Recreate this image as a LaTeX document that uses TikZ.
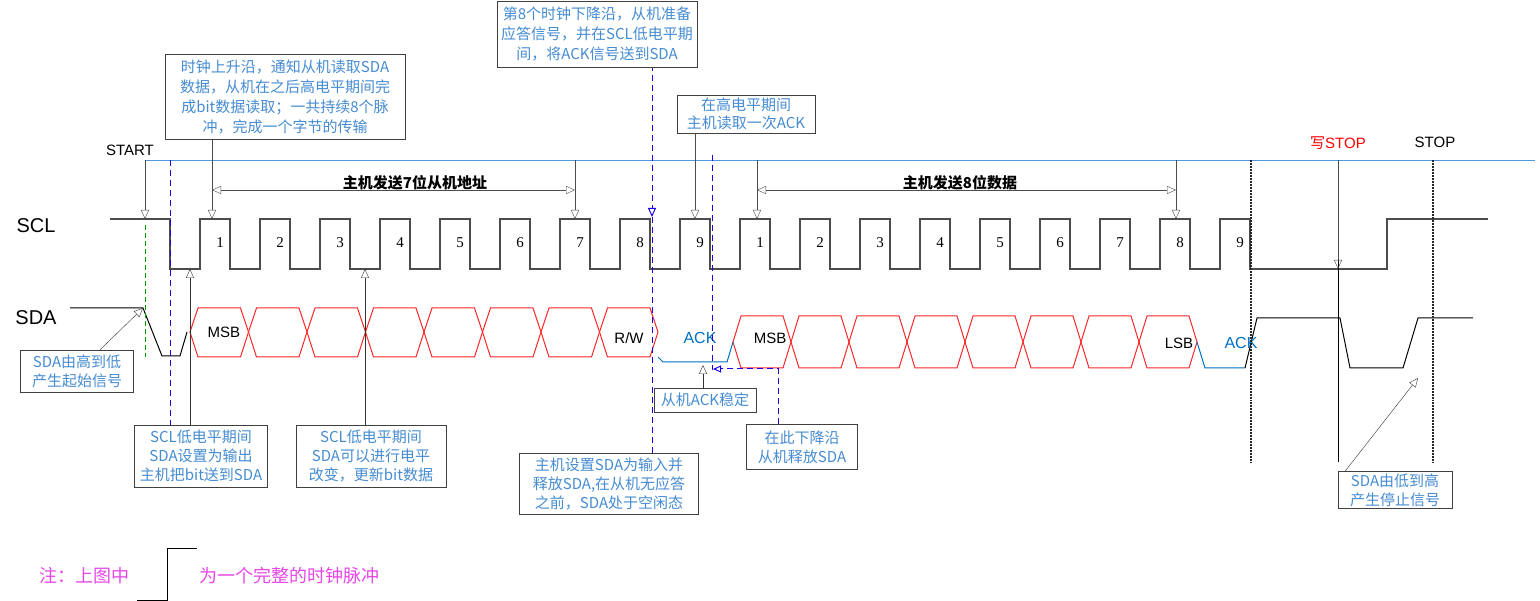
\documentclass[tikz,border=0pt]{standalone}
\usepackage{fontspec}
\setmainfont{Noto Sans CJK SC}
\newfontfamily\lat{Liberation Sans}
\newfontfamily\ser{Liberation Serif}
\usetikzlibrary{arrows.meta,positioning}
\definecolor{noteblue}{RGB}{70,140,210}
\definecolor{topblue}{RGB}{80,150,220}
\definecolor{ackblue}{RGB}{0,112,192}
\definecolor{hexred}{RGB}{250,40,40}
\definecolor{pink}{RGB}{230,70,230}

\begin{document}
\begin{tikzpicture}[x=1pt,y=-1pt,line join=miter,
  note/.style={draw=black!75,fill=white,text=noteblue,align=center,inner sep=2pt,
    font=\fontsize{15}{20}\selectfont},
  tip/.style={-{Triangle[open,length=9pt,width=8pt]}},
  clk/.style={black!70,line width=1.3pt},
  wire/.style={black,line width=1pt},
  hex/.style={hexred,line width=1pt},
  vdash/.style={blue!80!violet,dashed,dash pattern=on 6pt off 4pt,line width=1pt},
  stopline/.style={black!85,line width=1.3pt,dash pattern=on 1pt off 0.5pt}]
\useasboundingbox (0,0) rectangle (1540,601);

% top reference line
\draw[topblue] (145,160) -- (1535,160);

% signal labels
\node[font=\lat\fontsize{20}{20}\selectfont] (scl) at (36,226) {SCL};
\node[font=\lat\fontsize{20}{20}\selectfont] (sda) at (36,318) {SDA};

% SCL clock
\draw[clk] (110,219) -- (170,219) -- (170,269)
  foreach \k in {0,...,17}{ -- ({200+60*\k},269) -- ({200+60*\k},219)
    -- ({230+60*\k},219) -- ({230+60*\k},269) }
  -- (1387,269) -- (1387,219) -- (1488,219);
\foreach \k in {0,...,8}{
  \node[font=\ser\fontsize{15}{15}\selectfont] at ({220+60*\k},243) {\the\numexpr\k+1\relax};
  \node[font=\ser\fontsize{15}{15}\selectfont] at ({760+60*\k},243) {\the\numexpr\k+1\relax};
}

% SDA line
\draw[wire] (70,308) -- (143,308) -- (162,356) -- (180,356) -- (187,332);
\foreach \i in {0,...,7}{
  \pgfmathsetmacro\a{190+58.5*\i}\pgfmathsetmacro\b{\a+58.5}
  \draw[hex] (\a,332) -- (\a+8,308) -- (\b-8,308) -- (\b,332) -- (\b-8,357) -- (\a+8,357) -- cycle;
  \pgfmathsetmacro\c{733+58*\i}\pgfmathsetmacro\d{\c+58}
  \draw[hex] (\c,342) -- (\c+8,316) -- (\d-8,316) -- (\d,342) -- (\d-8,368) -- (\c+8,368) -- cycle;
}
\draw[ackblue,line width=1pt] (658,357) -- (663,362) -- (727,362) -- (733,342);
\draw[ackblue,line width=1pt] (1197,342) -- (1205,368) -- (1245,368);
\draw[wire] (1245,368) -- (1257,318) -- (1340,318) -- (1350,368) -- (1403,368)
  -- (1418,318) -- (1473,318);
\node[font=\lat\fontsize{15}{15}\selectfont] at (224,332) {MSB};
\node[font=\lat\fontsize{15}{15}\selectfont] at (629,338) {R/W};
\node[font=\lat\fontsize{16}{16}\selectfont,text=ackblue] at (700,338) {ACK};
\node[font=\lat\fontsize{15}{15}\selectfont] at (770,338) {MSB};
\node[font=\lat\fontsize{15}{15}\selectfont] at (1179,343) {LSB};
\node[font=\lat\fontsize{16}{16}\selectfont,text=ackblue] at (1241,343) {ACK};

% markers
\draw[green!60!black,dashed,dash pattern=on 5pt off 3pt] (145,225) -- (145,357);
\draw[vdash] (170,160) -- (170,425);
\draw[vdash] (712,155) -- (712,370);
\draw[stopline] (1251,160) -- (1251,462);
\draw[black,line width=1pt] (1338,160) -- (1338,462);
\draw[stopline] (1433,160) -- (1433,462);

% top labels
\node[font=\lat\fontsize{15}{15}\selectfont] (start) at (130,150) {START};
\node[font=\fontsize{15}{15}\selectfont,text=red] (wstop) at (1338,143) {写{\lat STOP}};
\node[font=\lat\fontsize{15}{15}\selectfont] (stop) at (1435,142) {STOP};
\draw[black!70,tip] (145,160) -- (145,219);
\draw[black!70,tip] (1338,160) -- (1338,269);

% address and data brackets
\draw[black!70,{Triangle[open,length=9pt,width=8pt]}-{Triangle[open,length=9pt,width=8pt]}] (212,190) -- (575,190);
\node[font=\bfseries\fontsize{15}{15}\selectfont] (addr) at (415,183) {主机发送7位从机地址};
\draw[black!70,tip] (575,160) -- (575,219);
\draw[black!70,{Triangle[open,length=9pt,width=8pt]}-{Triangle[open,length=9pt,width=8pt]}] (757,190) -- (1176,190);
\node[font=\bfseries\fontsize{15}{15}\selectfont] (data) at (960,183) {主机发送8位数据};
\draw[black!70,tip] (757,160) -- (757,219);
\draw[black!70,tip] (1176,160) -- (1176,219);

% notes
\node[note,minimum width=240pt,minimum height=85pt] (rise) at (285,97)
  {时钟上升沿，通知从机读取SDA\\数据，从机在之后高电平期间完\\成bit数据读取；一共持续8个脉\\冲，完成一个字节的传输};
\draw[black!70,tip] (rise.south -| 212,0) -- (212,219);

\draw[vdash,-{Triangle[open,length=9pt,width=8pt]}] (652,65) -- (652,217);
\draw[vdash] (652,217) -- (652,453);
\node[note,minimum width=200pt,minimum height=66pt] (fall8) at (597,34)
  {第8个时钟下降沿，从机准备\\应答信号，并在SCL低电平期\\间，将ACK信号送到SDA};

\node[note,minimum width=138pt,minimum height=38pt,font=\fontsize{15}{18}\selectfont] (high) at (746,114)
  {在高电平期间\\主机读取一次ACK};
\draw[black!70,tip] (high.south -| 695,0) -- (695,219);

\node[note,minimum width=113pt,minimum height=42pt,font=\fontsize{15}{19}\selectfont] (startn) at (77,371)
  {SDA由高到低\\产生起始信号};
\draw[black!80,tip] (startn.north -| 100,0) -- (143,308);

\node[note,minimum width=133pt,minimum height=62pt,font=\fontsize{15}{19}\selectfont] (out) at (201,456)
  {SCL低电平期间\\SDA设置为输出\\主机把bit送到SDA};
\draw[black!80,tip] (out.north -| 190,0) -- (190,269);

\node[note,minimum width=150pt,minimum height=62pt,font=\fontsize{15}{19}\selectfont] (chg) at (371,456)
  {SCL低电平期间\\SDA可以进行电平\\改变，更新bit数据};
\draw[black!80,tip] (chg.north -| 365,0) -- (365,269);

\node[note,minimum width=179pt,minimum height=61pt,font=\fontsize{15}{19}\selectfont] (rel) at (609,484)
  {主机设置SDA为输入并\\释放SDA,在从机无应答\\之前，SDA处于空闲态};

\node[note,minimum width=102pt,minimum height=24pt,font=\fontsize{15}{18}\selectfont] (ackst) at (705,400)
  {从机ACK稳定};
\draw[black!80,tip] (ackst.north -| 703,0) -- (703,365);

\node[note,minimum width=111pt,minimum height=45pt,font=\fontsize{15}{19}\selectfont] (relfall) at (802,447)
  {在此下降沿\\从机释放SDA};
\draw[vdash,-{Triangle[open,length=8pt,width=7pt]}] (relfall.north -| 778,0) -- (778,369) -- (713,369);

\node[note,minimum width=114pt,minimum height=36pt,font=\fontsize{15}{19}\selectfont] (stopn) at (1395,490)
  {SDA由低到高\\产生停止信号};
\draw[black!80,tip] (stopn.north -| 1345,0) -- (1418,378);

% footnote
\node[text=pink,font=\fontsize{18}{18}\selectfont,anchor=west] (foot1) at (36,576) {注：上图中};
\draw[black,line width=0.9pt] (137,600) -- (167,600) -- (167,548) -- (197,548);
\node[text=pink,font=\fontsize{18}{18}\selectfont,anchor=west] (foot2) at (196,576) {为一个完整的时钟脉冲};
\end{tikzpicture}
\end{document}
